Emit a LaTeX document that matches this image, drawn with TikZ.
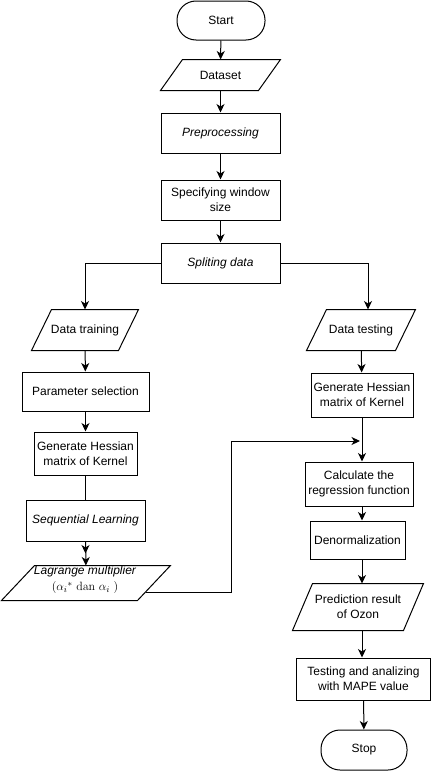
\documentclass[tikz,border=0pt]{standalone}
\usepackage[no-math]{fontspec}
\setmainfont{Liberation Sans}
\usetikzlibrary{arrows.meta,calc}
\newcommand{\drawpara}[2]{\draw ([xshift=#2]#1.north west) -- (#1.north east) -- ([xshift=-#2]#1.south east) -- (#1.south west) -- cycle;}
\begin{document}
\begin{tikzpicture}[x=1pt,y=-1pt,line width=1pt,
  font=\fontsize{12}{15}\selectfont,
  box/.style={draw,rectangle,inner sep=0pt,align=center},
  io/.style={rectangle,inner sep=0pt,align=center},
  term/.style={draw,rectangle,rounded corners=19pt,inner sep=0pt,align=center},
  arr/.style={-{Stealth[length=8.5pt,width=8pt,inset=2.5pt]}}]
\useasboundingbox[fill=white] (0,0) rectangle (431,771);

\node[term,minimum width=88pt,minimum height=39pt] (start) at (221,20.5) {Start};
\node[io,minimum width=119pt,minimum height=30pt] (dataset) at (220.5,75) {Dataset};
\drawpara{dataset}{22pt}
\node[box,minimum width=119pt,minimum height=40pt] (pre) at (220.5,133) {\itshape Preprocessing};
\node[box,minimum width=119pt,minimum height=40pt] (spec) at (220.5,200) {Specifying window\\size};
\node[box,minimum width=119pt,minimum height=40pt] (split) at (220.5,263) {\itshape Spliting data};

\node[io,minimum width=106pt,minimum height=40pt] (train) at (85,330) {Data training};
\drawpara{train}{20pt}
\node[io,minimum width=108pt,minimum height=40pt] (test) at (361,330) {Data testing};
\drawpara{test}{20pt}

\node[box,minimum width=127pt,minimum height=39pt] (param) at (85.5,391.5) {Parameter selection};
\node[box,minimum width=103pt,minimum height=43pt] (genL) at (85.5,453.5) {Generate Hessian\\matrix of Kernel};
\node[box,minimum width=119pt,minimum height=41pt] (seq) at (85.5,520.5) {\itshape Sequential Learning};
\node[io,minimum width=168pt,minimum height=34pt] (lag) at (86,583) {};
\drawpara{lag}{33pt}
\node[align=center,inner sep=0pt] (lagtext) at (85,580) {\itshape Lagrange multiplier\\[1pt]\fontsize{13}{15}\selectfont$(\alpha_i{}^{*}\ \mathrm{dan}\ \alpha_i\ )$};

\node[box,minimum width=102pt,minimum height=44pt] (genR) at (362,395) {Generate Hessian\\matrix of Kernel};
\node[box,minimum width=108pt,minimum height=44pt] (calc) at (359,484) {Calculate the\\regression function};
\node[box,minimum width=95pt,minimum height=38pt] (denorm) at (357.5,540) {Denormalization};
\node[io,minimum width=130pt,minimum height=46pt] (pred) at (358,607) {Prediction result\\of Ozon};
\drawpara{pred}{20pt}
\node[box,minimum width=134pt,minimum height=42pt] (tmape) at (363.5,679) {Testing and analizing\\with MAPE value};
\node[term,minimum width=86pt,minimum height=40pt] (stop) at (364,750) {Stop};

\coordinate (col) at (362,0);
\coordinate (tcol) at (368,0);
\coordinate (join) at (362,441);
\coordinate (bend) at (231,0);

\draw[arr] (start) -- (dataset);
\draw[arr] (dataset) -- (pre);
\draw[arr] (pre) -- (spec);
\draw[arr] (spec) -- (split);
\draw[arr] (split.west) -| (train.north);
\draw[arr] (split.east) -| (test.north -| tcol);
\draw[arr] (train) -- (param);
\draw[arr] (param) -- (genL);
\draw (genL) -- (seq);
\draw[arr] (seq.south) -- ++(0,12);
\draw[arr] (seq) -- (lag);
\draw[arr] (test) -- (genR);
\draw[arr] (genR.south -| col) -- (calc.north -| col);
\draw[arr] ([xshift=-25pt,yshift=8pt]lag.south east) -| (join -| bend) -- ([xshift=-2pt]join);
\draw[arr] (calc.south -| col) -- (denorm.north -| col);
\draw[arr] (denorm.south -| col) -- (pred.north -| col);
\draw[arr] (pred.south -| col) -- (tmape.north -| col);
\draw[arr] (tmape) -- (stop);
\end{tikzpicture}
\end{document}
